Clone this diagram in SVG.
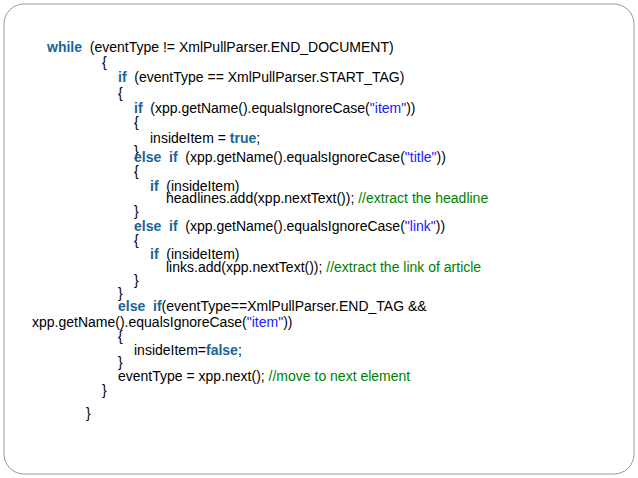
<svg xmlns="http://www.w3.org/2000/svg" width="638" height="478" viewBox="0 0 638 478">
<style>
text{font-family:"Liberation Sans",Arial,sans-serif;font-size:14px;fill:#000;white-space:pre}
.k{fill:#1a6496;font-weight:bold}
.s{fill:#1a1aff}
.c{fill:#008000}
</style>
<rect width="638" height="478" fill="#fff"/>
<rect x="4" y="4" width="630" height="470" rx="20" fill="none" stroke="#999" stroke-width="1"/>
<g id="code" xml:space="preserve">
<text x="47" y="52"><tspan class="k">while</tspan>  (eventType != XmlPullParser.END_DOCUMENT)</text>
<text x="102" y="67">{</text>
<text x="118" y="82"><tspan class="k">if</tspan>  (eventType == XmlPullParser.START_TAG)</text>
<text x="118" y="98">{</text>
<text x="134" y="113"><tspan class="k">if</tspan>  (xpp.getName().equalsIgnoreCase(<tspan class="s">"item"</tspan>))</text>
<text x="134" y="127">{</text>
<text x="150" y="143">insideItem = <tspan class="k">true</tspan>;</text>
<text x="134" y="156">}</text>
<text x="134" y="162"><tspan class="k">else  if</tspan>  (xpp.getName().equalsIgnoreCase(<tspan class="s">"title"</tspan>))</text>
<text x="134" y="176">{</text>
<text x="150" y="191"><tspan class="k">if</tspan>  (insideItem)</text>
<text x="166" y="203">headlines.add(xpp.nextText()); <tspan class="c">//extract the headline</tspan></text>
<text x="134" y="216">}</text>
<text x="134" y="231"><tspan class="k">else  if</tspan>  (xpp.getName().equalsIgnoreCase(<tspan class="s">"link"</tspan>))</text>
<text x="134" y="245">{</text>
<text x="150" y="259"><tspan class="k">if</tspan>  (insideItem)</text>
<text x="166" y="272">links.add(xpp.nextText()); <tspan class="c">//extract the link of article</tspan></text>
<text x="134" y="285">}</text>
<text x="118" y="298">}</text>
<text x="118" y="311"><tspan class="k">else  if</tspan>(eventType==XmlPullParser.END_TAG &amp;&amp;</text>
<text x="32" y="327">xpp.getName().equalsIgnoreCase(<tspan class="s">"item"</tspan>))</text>
<text x="118" y="341">{</text>
<text x="134" y="355">insideItem=<tspan class="k">false</tspan>;</text>
<text x="118" y="367">}</text>
<text x="118" y="381">eventType = xpp.next(); <tspan class="c">//move to next element</tspan></text>
<text x="102" y="395">}</text>
<text x="86" y="418">}</text>
</g>
</svg>
